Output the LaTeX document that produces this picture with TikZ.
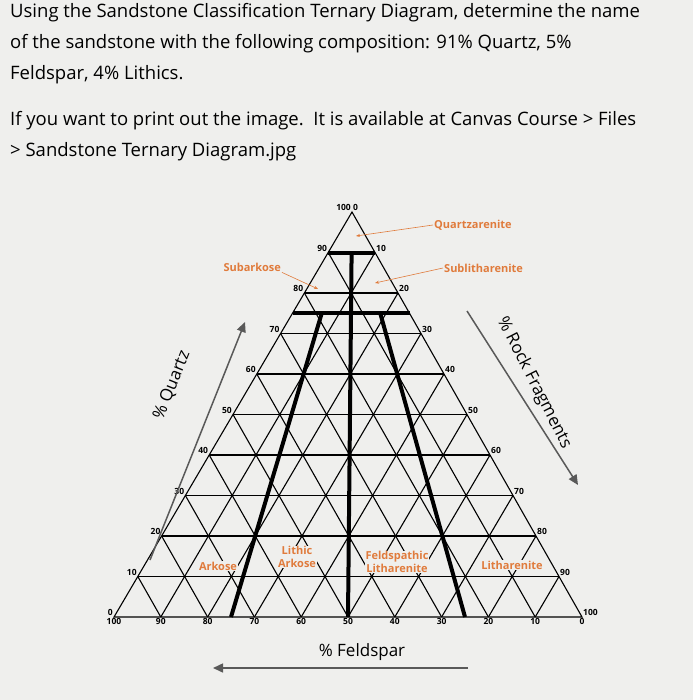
\documentclass[tikz,border=0pt]{standalone}
\usepackage{fontspec}
\setmainfont{Open Sans}
\usetikzlibrary{calc,arrows.meta}
\definecolor{bg}{HTML}{EFEFED}
\definecolor{org}{HTML}{E07B3C}
\begin{document}
\begin{tikzpicture}[x=1pt,y=-1pt,
  grid/.style={line width=1.1pt,black},
  thick/.style={line width=4pt,black},
  tick/.style={font=\fontsize{8.5}{9}\selectfont\bfseries,inner sep=1pt},
  rlab/.style={font=\fontsize{11}{12.5}\selectfont\bfseries,text=org,fill=bg,inner sep=1pt,align=center},
  body/.style={font=\fontsize{18.5}{31}\selectfont,anchor=north west,align=left,inner sep=0pt},
  gar/.style={gray!70!black,line width=1.5pt,-{Triangle[length=10pt,width=9pt]}},
  lead/.style={org,line width=0.6pt,-{Stealth[length=4pt]}}]
\fill[bg] (0,0) rectangle (693,700);
\useasboundingbox (0,0) rectangle (693,700);
\node[body] (txt1) at (10,3) {Using the Sandstone Classification Ternary Diagram, determine the name\\of the sandstone with the following composition: 91\% Quartz, 5\%\\Feldspar, 4\% Lithics.};
\node[body] (txt2) at (10,111) {If you want to print out the image.\ \ It is available at Canvas Course > Files\\> Sandstone Ternary Diagram.jpg};
\coordinate (L) at (114,617);
\coordinate (R) at (582,617);
\coordinate (T) at (352,212);
% grid
\foreach \k in {10,20,...,90}{
  \draw[grid] ($(L)!\k/100!(T)$) -- ($(R)!\k/100!(T)$);
  \draw[grid] ($(L)!\k/100!(R)$) -- ($(T)!\k/100!(R)$);
  \draw[grid] ($(R)!\k/100!(L)$) -- ($(T)!\k/100!(L)$);
}
\draw[grid] (L) -- (R) -- (T) -- cycle;
% thick field boundaries
\draw[thick] ($(L)!0.9!(T)$) -- ($(R)!0.9!(T)$);
\draw[thick] ($(L)!0.75!(T)$) -- ($(R)!0.75!(T)$);
\coordinate (c90) at ($(T)!0.1!($(L)!0.5!(R)$)$);
\draw[thick] (c90) -- ($(L)!0.5!(R)$);
\coordinate (b25) at ($(L)!0.25!(R)$);
\coordinate (b75) at ($(L)!0.75!(R)$);
\draw[thick] ($(T)!0.25!(b25)$) -- (b25);
\draw[thick] ($(T)!0.25!(b75)$) -- (b75);
% tick labels
\foreach \k in {0,10,...,100}{
  \node[tick,anchor=south east] (q\k) at ($(L)!\k/100!(T)$) {\k};
  \node[tick,anchor=south west] (r\k) at ($(T)!\k/100!(R)$) {\k};
  \node[tick,anchor=north] (f\k) at ($(R)!\k/100!(L)$) {\k};
}
% region labels
\node[rlab] (arkose) at (218,566) {Arkose};
\node[rlab] (lark) at (297,557) {Lithic\\Arkose};
\node[rlab] (flith) at (397,562) {Feldspathic\\Litharenite};
\node[rlab] (lith) at (512,565) {Litharenite};
\node[rlab,anchor=west] (qa) at (433,225) {Quartzarenite};
\node[rlab,anchor=east] (sa) at (282,267) {Subarkose};
\node[rlab,anchor=west] (sl) at (443,268) {Sublitharenite};
\coordinate (qap) at (356,236);
\coordinate (sap) at (318,289);
\coordinate (slp) at (375,283);
\draw[lead] (qa.west) -- (qap);
\draw[lead] (sa.south east) -- (sap);
\draw[lead] (sl.west) -- (slp);
% axis arrows
\coordinate (qa1) at (150,560); \coordinate (qa2) at (245,322);
\draw[gar] (qa1) -- (qa2);
\node[font=\fontsize{17}{18}\selectfont,rotate=68,inner sep=0pt] (qlab) at (172,385) {\% Quartz};
\coordinate (ra1) at (467,311); \coordinate (ra2) at (578,485);
\draw[gar] (ra1) -- (ra2);
\node[font=\fontsize{17}{18}\selectfont,rotate=-63,inner sep=0pt] (rlabel) at (534,383) {\% Rock Fragments};
\coordinate (fa1) at (468,668); \coordinate (fa2) at (213,668);
\draw[gar] (fa1) -- (fa2);
\node[font=\fontsize{17}{18}\selectfont] (flab) at (362,652) {\% Feldspar};
\end{tikzpicture}
\end{document}
